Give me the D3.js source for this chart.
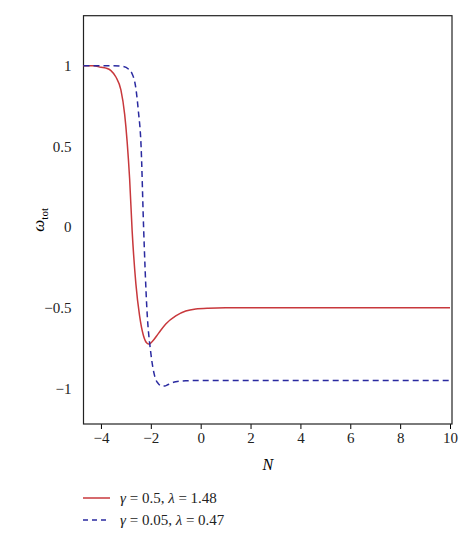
<!DOCTYPE html><html><head><meta charset="utf-8"><script src="https://cdn.jsdelivr.net/npm/d3@7"></script>
<style>body{margin:0;background:#fff}text{font-family:"Liberation Serif","DejaVu Serif",serif}</style></head><body><svg id="c" width="474" height="544"></svg>
<script>
const xTicks=[-4,-2,0,2,4,6,8,10];
const yTicks=[1,0.5,0,-0.5,-1];
const redN=[-4.7,-4.3,-4.0,-3.8,-3.6,-3.4,-3.2,-3.05,-2.95,-2.85,-2.75,-2.6,-2.45,-2.3,-2.15,-2.08,-1.95,-1.7,-1.4,-1.0,-0.6,-0.2,0.3,1,3,10];
const redW=[1,1,0.99,0.985,0.97,0.93,0.85,0.7,0.53,0.3,-0.02,-0.35,-0.55,-0.67,-0.72,-0.725,-0.71,-0.66,-0.6,-0.55,-0.52,-0.507,-0.502,-0.5,-0.5,-0.5];
const blueN=[-4.7,-3.5,-3.1,-2.9,-2.75,-2.62,-2.5,-2.39,-2.29,-2.16,-2.0,-1.85,-1.7,-1.55,-1.45,-1.3,-1.0,-0.6,0,2,10];
const blueW=[1,1,0.995,0.98,0.95,0.88,0.72,0.5,0.0,-0.5,-0.78,-0.92,-0.97,-0.985,-0.985,-0.975,-0.958,-0.952,-0.95,-0.95,-0.95];
const svg=d3.select("#c");
const L=83.5,R=452,T=15.7,B=424;
const x=d3.scaleLinear().domain([-4.7,10.08]).range([L,R]);
const y=d3.scaleLinear().domain([-1.22,1.31]).range([B,T]);
svg.append("g").attr("transform",`translate(0,${B})`).call(d3.axisBottom(x).tickValues(xTicks).tickSize(5).tickFormat(d=>d<0?"\u2212"+(-d):d)).call(g=>{g.select(".domain").remove();g.selectAll("text").attr("font-size",15).attr("fill","#222");});
svg.append("g").attr("transform",`translate(${L},0)`).call(d3.axisLeft(y).tickValues(yTicks).tickSize(0).tickPadding(12).tickFormat(d=>d<0?"\u2212"+(-d):d)).call(g=>{g.select(".domain").remove();g.selectAll("text").attr("font-size",15).attr("fill","#222");});
svg.append("rect").attr("x",L).attr("y",T).attr("width",R-L).attr("height",B-T).attr("fill","none").attr("stroke","#222").attr("stroke-width",1.2);
const line=d3.line().x(d=>x(d[0])).y(d=>y(d[1])).curve(d3.curveMonotoneX);
svg.append("path").attr("d",line(redN.map((n,i)=>[n,redW[i]]))).attr("fill","none").attr("stroke","#c8383c").attr("stroke-width",1.5);
svg.append("path").attr("d",line(blueN.map((n,i)=>[n,blueW[i]]))).attr("fill","none").attr("stroke","#2a2aa0").attr("stroke-width",1.5).attr("stroke-dasharray","6,4");
svg.append("text").attr("x",(L+R)/2).attr("y",470).attr("text-anchor","middle").attr("font-size",16).attr("font-style","italic").text("N");
const yl=svg.append("text").attr("transform",`translate(44,${(T+B)/2}) rotate(-90)`).attr("text-anchor","middle").attr("font-size",17).attr("font-style","italic");
yl.append("tspan").text("ω");yl.append("tspan").attr("font-size",11).attr("font-style","normal").attr("dy",4).text("tot");
const leg=[["#c8383c",null,["0.5","1.48"]],["#2a2aa0","5,4",["0.05","0.47"]]];
leg.forEach((l,i)=>{const yy=498+i*22;
svg.append("line").attr("x1",83).attr("x2",110).attr("y1",yy).attr("y2",yy).attr("stroke",l[0]).attr("stroke-width",1.5).attr("stroke-dasharray",l[1]);
const t=svg.append("text").attr("x",120).attr("y",yy+5).attr("font-size",15).attr("fill","#222");
t.append("tspan").attr("font-style","italic").text("γ");t.append("tspan").text(" = "+l[2][0]+", ");
t.append("tspan").attr("font-style","italic").text("λ");t.append("tspan").text(" = "+l[2][1]);});
</script></body></html>
